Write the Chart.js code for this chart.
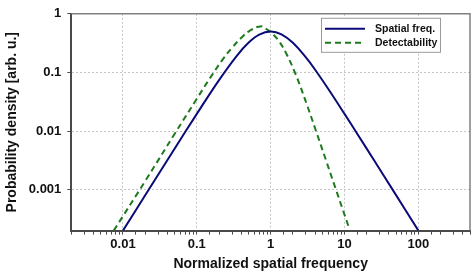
<!DOCTYPE html>
<html>
<head>
<meta charset="utf-8">
<script src="https://cdn.jsdelivr.net/npm/chart.js@4.4.0/dist/chart.umd.min.js"></script>
<style>
html, body { margin: 0; padding: 0; background: #fff; }
#wrap { width: 474px; height: 277px; }
</style>
</head>
<body>
<div id="wrap"><canvas id="densityChart"></canvas></div>
<script>
// values (log-log)
const spatialX = [0.01, 0.02, 0.05, 0.1, 0.2, 0.35, 0.5, 0.7, 1, 1.4, 2, 3, 4, 6, 10, 15, 25, 45, 100];
const spatialY = [0.0002, 0.0008, 0.005, 0.0196, 0.074, 0.194, 0.32, 0.441, 0.5, 0.447, 0.32, 0.18, 0.111, 0.0526, 0.0196, 0.0088, 0.0032, 0.00099, 0.0002];

const detectX = [0.0075, 0.02, 0.05, 0.1, 0.15, 0.23, 0.3, 0.4, 0.52, 0.73, 0.9, 1.1, 1.3, 1.6, 2.18, 3.1, 4.1, 5.6, 7.6, 9.5, 11.7];
const detectY = [0.0002, 0.0014, 0.0089, 0.0355, 0.079, 0.174, 0.263, 0.389, 0.513, 0.61, 0.537, 0.436, 0.339, 0.219, 0.093, 0.028, 0.0101, 0.0032, 0.00103, 0.00045, 0.00021];

const seriesLabels = ['Spatial freq.', 'Detectability'];
const xTickLabels = ['0.01', '0.1', '1', '10', '100'];
const yTickLabels = ['0.001', '0.01', '0.1', '1'];

function toPoints(xs, ys) {
    return xs.map((x, i) => ({ x: x, y: ys[i] }));
}

function isDecade(v) {
    const l = Math.log10(v);
    return Math.abs(l - Math.round(l)) < 1e-6;
}

function tickText(value, labels) {
    const s = String(Number(Number(value).toPrecision(6)));
    return labels.includes(s) ? s : '';
}

// thin grey frame on the top and right of the plot
const framePlugin = {
    id: 'frame',
    beforeDatasetsDraw(chart) {
        const a = chart.chartArea;
        const ctx = chart.ctx;
        ctx.save();
        ctx.strokeStyle = '#808080';
        ctx.lineWidth = 1.5;
        ctx.beginPath();
        ctx.moveTo(a.left, a.top);
        ctx.lineTo(a.right, a.top);
        ctx.lineTo(a.right, a.bottom);
        ctx.stroke();
        ctx.restore();
    }
};

// boxed legend inside the plot, top right
const boxLegend = {
    id: 'boxLegend',
    afterDraw(chart) {
        const a = chart.chartArea;
        const ctx = chart.ctx;
        const x0 = a.right - 149, y0 = a.top + 4, w = 119, h = 34;
        ctx.save();
        ctx.fillStyle = '#fff';
        ctx.fillRect(x0, y0, w, h);
        ctx.strokeStyle = '#9a9a9a';
        ctx.lineWidth = 1;
        ctx.strokeRect(x0 + 0.5, y0 + 0.5, w, h);
        chart.data.datasets.forEach((ds, i) => {
            const y = y0 + 11 + i * 14;
            ctx.strokeStyle = ds.borderColor;
            ctx.lineWidth = ds.borderWidth;
            ctx.setLineDash(ds.borderDash || []);
            ctx.beginPath();
            ctx.moveTo(x0 + 4, y);
            ctx.lineTo(x0 + 44, y);
            ctx.stroke();
            ctx.setLineDash([]);
            ctx.fillStyle = '#111';
            ctx.font = 'bold 10.5px "Liberation Sans", Arial, sans-serif';
            ctx.textBaseline = 'middle';
            ctx.fillText(ds.label, x0 + 54, y + 0.5);
        });
        ctx.restore();
    }
};

Chart.defaults.font.family = '"Liberation Sans", Arial, sans-serif';
Chart.defaults.color = '#111';

const ctx = document.getElementById('densityChart').getContext('2d');
new Chart(ctx, {
    type: 'scatter',
    data: {
        datasets: [
            {
                label: seriesLabels[0],
                data: toPoints(spatialX, spatialY),
                showLine: true,
                borderColor: '#0b0b78',
                borderWidth: 2,
                pointRadius: 0,
                tension: 0.4
            },
            {
                label: seriesLabels[1],
                data: toPoints(detectX, detectY),
                showLine: true,
                borderColor: '#1f7a1f',
                borderWidth: 2,
                borderDash: [6, 4],
                pointRadius: 0,
                tension: 0.4
            }
        ]
    },
    options: {
        responsive: true,
        maintainAspectRatio: false,
        animation: false,
        layout: {
            padding: { left: 4, right: 4, top: 5, bottom: 4 }
        },
        plugins: {
            legend: { display: false },
            tooltip: { enabled: false }
        },
        scales: {
            x: {
                type: 'logarithmic',
                min: 0.002,
                max: 500,
                border: { color: '#4a4a4a', width: 2, dash: [2, 2] },
                grid: {
                    color: c => (c.tick && isDecade(c.tick.value)) ? '#c6c6c6' : 'rgba(0,0,0,0)',
                    tickColor: '#4a4a4a',
                    tickLength: 4,
                    tickBorderDash: []
                },
                ticks: {
                    autoSkip: false,
                    maxRotation: 0,
                    padding: 2,
                    font: { size: 13, weight: 'bold' },
                    callback: v => tickText(v, xTickLabels)
                },
                title: {
                    display: true,
                    text: 'Normalized spatial frequency',
                    font: { size: 14, weight: 'bold' },
                    padding: { top: 2, bottom: 0 }
                }
            },
            y: {
                type: 'logarithmic',
                min: 0.0002,
                max: 1,
                border: { color: '#4a4a4a', width: 2, dash: [2, 2] },
                grid: {
                    color: c => (c.tick && isDecade(c.tick.value)) ? '#c6c6c6' : 'rgba(0,0,0,0)',
                    tickColor: c => (c.tick && isDecade(c.tick.value)) ? '#4a4a4a' : 'rgba(0,0,0,0)',
                    tickLength: 4,
                    tickBorderDash: []
                },
                ticks: {
                    autoSkip: false,
                    padding: 6,
                    font: { size: 13, weight: 'bold' },
                    callback: v => tickText(v, yTickLabels)
                },
                title: {
                    display: true,
                    text: 'Probability density [arb. u.]',
                    font: { size: 14, weight: 'bold' },
                    padding: { top: 0, bottom: 2 }
                }
            }
        }
    },
    plugins: [framePlugin, boxLegend]
});
</script>
</body>
</html>
